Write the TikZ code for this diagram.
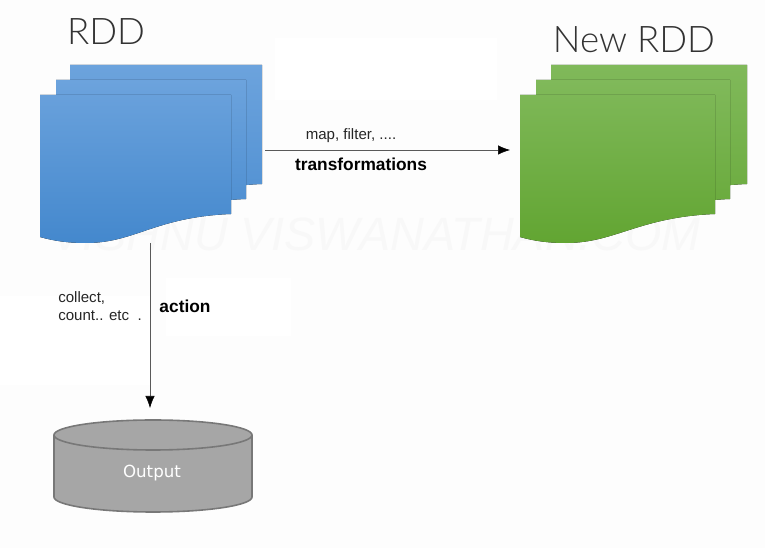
\documentclass[tikz,border=0pt]{standalone}
\usepackage{fontspec}
\setmainfont{Liberation Sans}
\newfontfamily\titlefont{Lato Light}
\newfontfamily\outputfont{DejaVu Sans}
\usetikzlibrary{arrows.meta}
\definecolor{pagebg}{RGB}{253,253,253}
\definecolor{bluetop}{RGB}{108,163,221}
\definecolor{bluebot}{RGB}{68,136,205}
\definecolor{greentop}{RGB}{128,185,90}
\definecolor{greenbot}{RGB}{98,165,50}
\definecolor{cylfill}{RGB}{166,166,166}
\definecolor{cylline}{RGB}{120,120,120}
\definecolor{markcol}{RGB}{248,248,248}
\tikzset{
  heading/.style={font=\titlefont\fontsize{27.5}{27.5}\selectfont,text=black!80},
  small/.style={font=\fontsize{11.3}{13.5}\selectfont,align=left,text=black!85},
  verb/.style={font=\bfseries\fontsize{13}{15}\selectfont,text=black},
  flow/.style={draw=black!65,-{Latex[length=9pt,width=7pt,black]}},
  cylside/.style={draw=cylline,line width=1.2pt,fill=cylfill},
}
% one wavy page: left, top, width, bottom colour, top colour
\newcommand{\wavepage}[5]{
  \begin{scope}[shift={(#1,#2)}]
  \fill[bottom color=#4,top color=#5] (0,0) -- (#3,0) -- (#3,119)
    .. controls (#3-76,122) and (95,148) .. (46,148)
    .. controls (28,148) and (14,146) .. (0,142) -- cycle;
  \end{scope}
}
\begin{document}
\begin{tikzpicture}[x=0.75pt,y=-0.75pt]
\useasboundingbox (0,0) rectangle (765,548);
\fill[pagebg] (0,0) rectangle (765,548);
\fill[white] (275,38) rectangle (497,100);
\fill[white] (166,278) rectangle (291,336);
\fill[white] (0,296) rectangle (150,385);
\node[font=\itshape\fontsize{35}{35}\selectfont,text=markcol] (mark) at (376,234) {VISHNU VISWANATHAN.COM};

\wavepage{70}{65}{192}{bluebot!70!bluetop}{bluetop}
\wavepage{56}{80}{190}{bluebot!85!bluetop}{bluetop}
\wavepage{40}{95}{191}{bluebot}{bluetop!90!bluebot}
\wavepage{551}{65}{196}{greenbot!70!greentop}{greentop}
\wavepage{536}{80}{194}{greenbot!85!greentop}{greentop}
\wavepage{520}{95}{195}{greenbot}{greentop!90!greenbot}

\node[heading] (rdd) at (106,32) {RDD};
\node[heading] (newrdd) at (634,40) {New RDD};

\coordinate (rddright) at (265,150);
\coordinate (newleft) at (510,150);
\draw[flow] (rddright) -- (newleft);
\node[small] (mapfilter) at (351,136) {map, filter, ....};
\node[verb] (transform) at (361,164) {transformations};

\draw[cylside] (54,435) -- (54,497) arc[start angle=180,end angle=360,x radius=99,y radius=-15] -- (252,435)
  arc[start angle=0,end angle=180,x radius=99,y radius=-15] -- cycle;
\draw[cylline,line width=1.2pt] (54,435) arc[start angle=180,end angle=360,x radius=99,y radius=-15];
\node[text=white,font=\outputfont\fontsize{12.5}{13}\selectfont] (output) at (152,473) {Output};

\coordinate (rddbottom) at (150,243);
\coordinate (outtop) at (150,408);
\draw[flow] (rddbottom) -- (outtop);
\node[small,anchor=north west,inner sep=0pt] (collect) at (58,291) {collect,\\count.. etc\ \ .};
\node[verb] (action) at (185,306) {action};
\end{tikzpicture}
\end{document}
